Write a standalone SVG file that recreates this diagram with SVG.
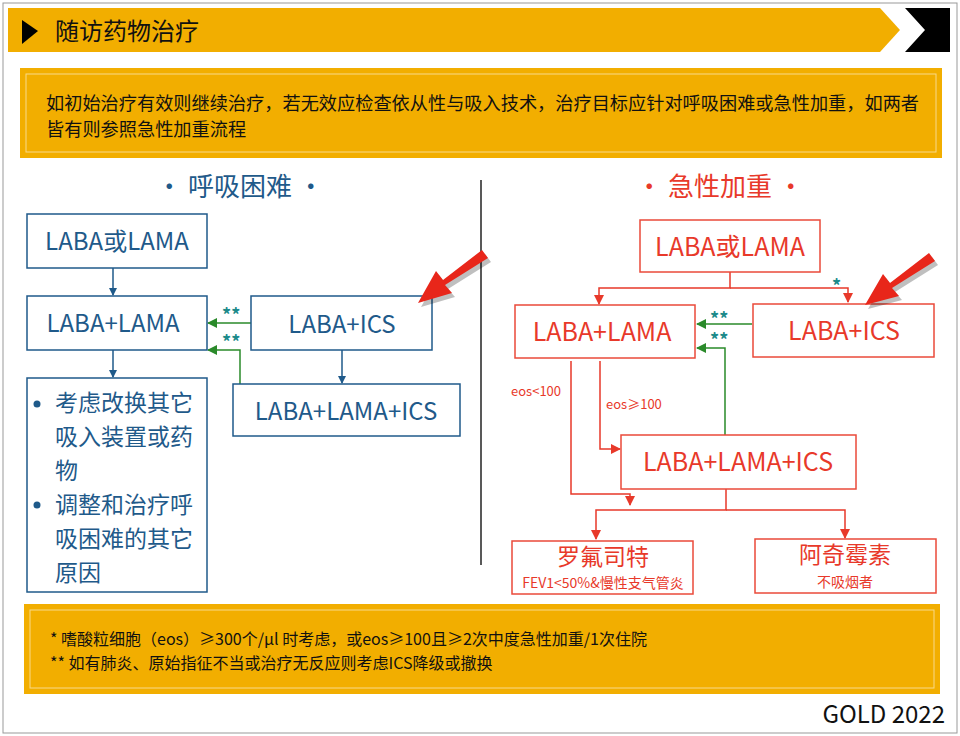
<svg xmlns="http://www.w3.org/2000/svg" width="960" height="736" viewBox="0 0 960 736">
<defs>
<style>
text{font-family:"Noto Sans CJK SC","Noto Sans","Liberation Sans",sans-serif}
.b{fill:#fff;stroke:#1f5a8a;stroke-width:1.5}
.r{fill:#fff;stroke:#ea4a3a;stroke-width:1.5}
.bt{fill:#1f5a8a;font-size:24px;text-anchor:middle}
.rt{fill:#e8392a;font-size:25px;text-anchor:middle}
.rs{fill:#e8392a;font-size:14px;text-anchor:middle}
.bl{stroke:#1f5a8a;stroke-width:1.5;fill:none}
.rl{stroke:#e8392a;stroke-width:1.5;fill:none}
.gl{stroke:#2a8a2a;stroke-width:1.5;fill:none}
.st{fill:#1a8a8a;font-size:18px;font-weight:bold}
</style>
<marker id="ab" markerWidth="8" markerHeight="8" refX="7" refY="4" orient="auto" markerUnits="userSpaceOnUse"><path d="M0,0L8,4L0,8z" fill="#1f5a8a"/></marker>
<marker id="ar" markerWidth="10" markerHeight="10" refX="9" refY="5" orient="auto" markerUnits="userSpaceOnUse"><path d="M0,0L10,5L0,10z" fill="#e8392a"/></marker>
<marker id="ag" markerWidth="10" markerHeight="10" refX="9" refY="5" orient="auto" markerUnits="userSpaceOnUse"><path d="M0,0L10,5L0,10z" fill="#2a8a2a"/></marker>
</defs>
<rect x="3" y="3" width="954" height="730" fill="#fff" stroke="#999" stroke-width="1"/>
<g id="header">
<path d="M8,8H880L900,30L880,52H8z" fill="#f2ae00"/>
<path d="M905,8H950V52H905L925,30z" fill="#000"/>
<path d="M22,20L38,31L22,44z" fill="#000"/>
<text x="55" y="40" font-size="24" fill="#111">随访药物治疗</text>
</g>
<g id="intro">
<rect x="20" y="68" width="922" height="90" fill="#f2ae00"/>
<rect x="26" y="74" width="910" height="78" fill="none" stroke="#f8d98a" stroke-width="1"/>
<text x="46" y="110" font-size="18.2" fill="#111">如初始治疗有效则继续治疗，若无效应检查依从性与吸入技术，治疗目标应针对呼吸困难或急性加重，如两者</text>
<text x="46" y="136" font-size="18.2" fill="#111">皆有则参照急性加重流程</text>
</g>
<text x="240" y="196" font-size="26" fill="#1f5a8a" text-anchor="middle">· 呼吸困难 ·</text>
<text x="720" y="196" font-size="26" fill="#e8392a" text-anchor="middle">· 急性加重 ·</text>
<line x1="481" y1="180" x2="481" y2="565" stroke="#222" stroke-width="1.5"/>
<g id="connectors">
<path class="bl" d="M113,268V295" marker-end="url(#ab)"/>
<path class="bl" d="M113,350V377" marker-end="url(#ab)"/>
<path class="bl" d="M342,350V383" marker-end="url(#ab)"/>
<path class="gl" d="M251,323H208" marker-end="url(#ag)"/>
<path class="gl" d="M240,384V350H208" marker-end="url(#ag)"/>
<text class="st" x="222" y="322">**</text>
<text class="st" x="222" y="349">**</text>
<path class="rl" d="M730,272V288H599V304" marker-end="url(#ar)"/>
<path class="rl" d="M730,288H848V302" marker-end="url(#ar)"/>
<text class="st" x="832" y="293">*</text>
<path class="gl" d="M752,324H697" marker-end="url(#ag)"/>
<path class="gl" d="M725,435V348H697" marker-end="url(#ag)"/>
<text class="st" x="710" y="326">**</text>
<text class="st" x="710" y="347">**</text>
<path class="rl" d="M571,361V494H630V505" marker-end="url(#ar)"/>
<path class="rl" d="M600,361V449H620" marker-end="url(#ar)"/>
<text x="511" y="396" font-size="13" fill="#e8392a">eos&lt;100</text>
<text x="606" y="409" font-size="13" fill="#e8392a">eos≥100</text>
<path class="rl" d="M726,489V510H596V539" marker-end="url(#ar)"/>
<path class="rl" d="M726,510H845V538" marker-end="url(#ar)"/>
</g>
<g id="l1"><rect class="b" x="27" y="214" width="180" height="54"/><text class="bt" x="117" y="250">LABA或LAMA</text></g>
<g id="l2"><rect class="b" x="27" y="296" width="180" height="54"/><text class="bt" x="113" y="332">LABA+LAMA</text></g>
<g id="l3"><rect class="b" x="251" y="296" width="181" height="54"/><text class="bt" x="342" y="333">LABA+ICS</text></g>
<g id="l4"><rect class="b" x="233" y="384" width="227" height="52"/><text class="bt" x="346" y="420">LABA+LAMA+ICS</text></g>
<g id="l5"><rect class="b" x="27" y="378" width="180" height="214"/>
<g fill="#1f5a8a" font-size="23">
<circle cx="37" cy="404" r="3.5"/><circle cx="37" cy="505" r="3.5"/>
<text x="55" y="411">考虑改换其它</text><text x="55" y="445">吸入装置或药</text><text x="55" y="479">物</text>
<text x="55" y="513">调整和治疗呼</text><text x="55" y="547">吸困难的其它</text><text x="55" y="581">原因</text></g></g>
<g id="r1"><rect class="r" x="640" y="220" width="180" height="52"/><text class="rt" x="730" y="256">LABA或LAMA</text></g>
<g id="r2"><rect class="r" x="515" y="305" width="180" height="53"/><text class="rt" x="602" y="341">LABA+LAMA</text></g>
<g id="r3"><rect class="r" x="753" y="304" width="181" height="53"/><text class="rt" x="844" y="340">LABA+ICS</text></g>
<g id="r4"><rect class="r" x="621" y="435" width="235" height="54"/><text class="rt" x="738" y="471">LABA+LAMA+ICS</text></g>
<g id="r5"><rect class="r" x="512" y="541" width="181" height="53"/><text class="rt" x="603" y="565" style="font-size:23px">罗氟司特</text><text class="rs" x="603" y="588">FEV1&lt;50%&amp;慢性支气管炎</text></g>
<g id="r6"><rect class="r" x="755" y="539" width="181" height="54"/><text class="rt" x="845" y="563" style="font-size:23px">阿奇霉素</text><text class="rs" x="845" y="587">不吸烟者</text></g>
<g id="arrows" fill="#e8261a">
<path d="M488,258L482,250L443,280L436,271L418,303L452,293L445,285Z" opacity="0.25" transform="translate(3,4)" fill="#000"/>
<path d="M488,258L482,250L443,280L436,271L418,303L452,293L445,285Z"/>
<path d="M935,261L929,253L890,283L883,274L865,305L899,296L892,288Z" opacity="0.25" transform="translate(3,4)" fill="#000"/>
<path d="M935,261L929,253L890,283L883,274L865,305L899,296L892,288Z"/>
</g>
<g id="notes">
<rect x="24" y="604" width="916" height="90" fill="#f2ae00"/>
<rect x="30" y="610" width="904" height="78" fill="none" stroke="#f8d98a" stroke-width="1"/>
<text x="50" y="645" font-size="16" fill="#111">* 嗜酸粒细胞（eos）≥300个/μl 时考虑，或eos≥100且≥2次中度急性加重/1次住院</text>
<text x="50" y="669" font-size="16" fill="#111">** 如有肺炎、原始指征不当或治疗无反应则考虑ICS降级或撤换</text>
</g>
<text x="945" y="723" font-size="24" fill="#111" text-anchor="end" font-family="Liberation Sans,sans-serif">GOLD 2022</text>
</svg>
